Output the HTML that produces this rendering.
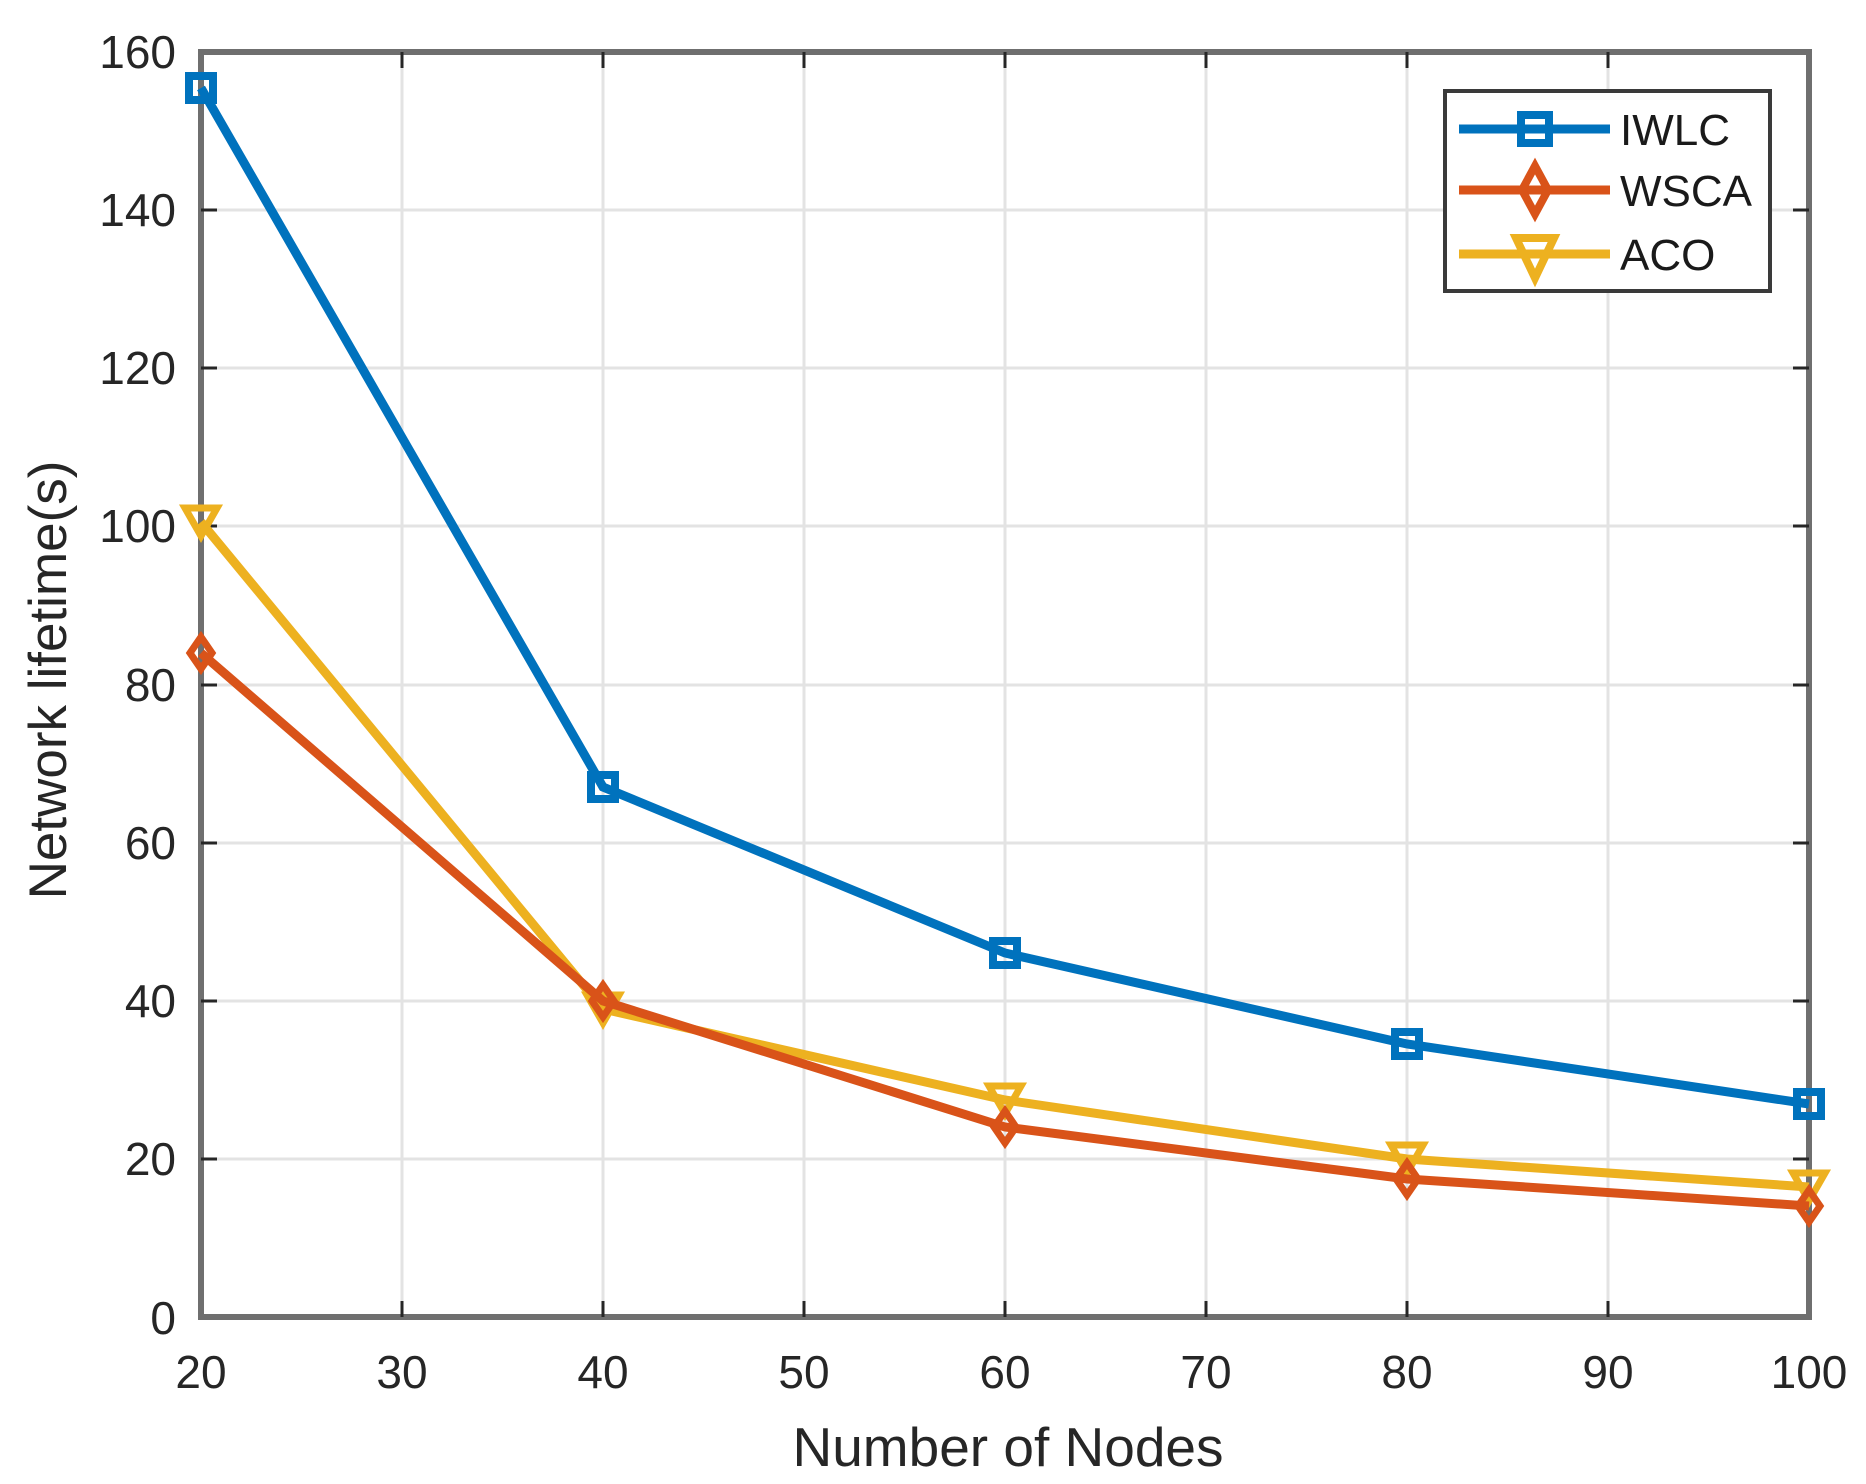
<!DOCTYPE html>
<html><head><style>body{margin:0;background:#fff}svg{display:block}</style></head>
<body>
<svg width="1866" height="1484" viewBox="0 0 1866 1484" xmlns="http://www.w3.org/2000/svg" font-family="Liberation Sans, sans-serif">
<rect width="1866" height="1484" fill="#fff"/>
<g stroke="#e3e3e3" stroke-width="3">
<line x1="402" y1="52" x2="402" y2="1317"/><line x1="603" y1="52" x2="603" y2="1317"/><line x1="804" y1="52" x2="804" y2="1317"/><line x1="1005" y1="52" x2="1005" y2="1317"/><line x1="1206" y1="52" x2="1206" y2="1317"/><line x1="1407" y1="52" x2="1407" y2="1317"/><line x1="1608" y1="52" x2="1608" y2="1317"/>
<line x1="201" y1="210" x2="1809" y2="210"/><line x1="201" y1="368" x2="1809" y2="368"/><line x1="201" y1="526" x2="1809" y2="526"/><line x1="201" y1="685" x2="1809" y2="685"/><line x1="201" y1="843" x2="1809" y2="843"/><line x1="201" y1="1001" x2="1809" y2="1001"/><line x1="201" y1="1159" x2="1809" y2="1159"/>
</g>
<rect x="201" y="52" width="1608" height="1265" fill="none" stroke="#6f6f6f" stroke-width="6"/>
<g stroke="#262626" stroke-width="3">
<line x1="402" y1="52" x2="402" y2="68"/><line x1="603" y1="52" x2="603" y2="68"/><line x1="804" y1="52" x2="804" y2="68"/><line x1="1005" y1="52" x2="1005" y2="68"/><line x1="1206" y1="52" x2="1206" y2="68"/><line x1="1407" y1="52" x2="1407" y2="68"/><line x1="1608" y1="52" x2="1608" y2="68"/>
<line x1="402" y1="1317" x2="402" y2="1301"/><line x1="603" y1="1317" x2="603" y2="1301"/><line x1="804" y1="1317" x2="804" y2="1301"/><line x1="1005" y1="1317" x2="1005" y2="1301"/><line x1="1206" y1="1317" x2="1206" y2="1301"/><line x1="1407" y1="1317" x2="1407" y2="1301"/><line x1="1608" y1="1317" x2="1608" y2="1301"/>
<line x1="201" y1="210" x2="217" y2="210"/><line x1="201" y1="368" x2="217" y2="368"/><line x1="201" y1="526" x2="217" y2="526"/><line x1="201" y1="685" x2="217" y2="685"/><line x1="201" y1="843" x2="217" y2="843"/><line x1="201" y1="1001" x2="217" y2="1001"/><line x1="201" y1="1159" x2="217" y2="1159"/>
<line x1="1809" y1="210" x2="1793" y2="210"/><line x1="1809" y1="368" x2="1793" y2="368"/><line x1="1809" y1="526" x2="1793" y2="526"/><line x1="1809" y1="685" x2="1793" y2="685"/><line x1="1809" y1="843" x2="1793" y2="843"/><line x1="1809" y1="1001" x2="1793" y2="1001"/><line x1="1809" y1="1159" x2="1793" y2="1159"/>
</g>
<g font-size="46" fill="#262626" text-anchor="end">
<text x="176" y="68">160</text><text x="176" y="226">140</text><text x="176" y="384">120</text><text x="176" y="542">100</text><text x="176" y="701">80</text><text x="176" y="859">60</text><text x="176" y="1017">40</text><text x="176" y="1175">20</text><text x="176" y="1334">0</text>
</g>
<g font-size="46" fill="#262626" text-anchor="middle">
<text x="201" y="1388">20</text><text x="402" y="1388">30</text><text x="603" y="1388">40</text><text x="804" y="1388">50</text><text x="1005" y="1388">60</text><text x="1206" y="1388">70</text><text x="1407" y="1388">80</text><text x="1608" y="1388">90</text><text x="1809" y="1388">100</text>
</g>
<text x="1008" y="1466" font-size="55" fill="#262626" text-anchor="middle">Number of Nodes</text>
<text transform="translate(66,680) rotate(-90)" font-size="53" fill="#262626" text-anchor="middle">Network lifetime(s)</text>
<!-- ACO -->
<polyline fill="none" stroke="#EDB120" stroke-width="9" points="201,522 603,1009 1005,1100 1407,1159 1809,1187"/>
<g fill="none" stroke="#EDB120" stroke-width="7">
<polygon points="185,508 217,508 201,536"/><polygon points="587,995 619,995 603,1023"/><polygon points="989,1086 1021,1086 1005,1114"/><polygon points="1391,1145 1423,1145 1407,1173"/><polygon points="1793,1173 1825,1173 1809,1201"/>
</g>
<!-- WSCA -->
<polyline fill="none" stroke="#D95319" stroke-width="9" points="201,653 603,1001 1005,1127 1407,1179 1809,1206"/>
<g fill="none" stroke="#D95319" stroke-width="7">
<polygon points="201,637 212,653 201,669 190,653"/><polygon points="603,985 614,1001 603,1017 592,1001"/><polygon points="1005,1111 1016,1127 1005,1143 994,1127"/><polygon points="1407,1163 1418,1179 1407,1195 1396,1179"/><polygon points="1809,1190 1820,1206 1809,1222 1798,1206"/>
</g>
<!-- IWLC -->
<polyline fill="none" stroke="#0072BD" stroke-width="9" points="201,88 603,787 1005,953 1407,1044 1809,1104"/>
<g fill="none" stroke="#0072BD" stroke-width="8">
<rect x="189" y="76" width="24" height="24"/><rect x="591" y="775" width="24" height="24"/><rect x="993" y="941" width="24" height="24"/><rect x="1395" y="1032" width="24" height="24"/><rect x="1797" y="1092" width="24" height="24"/>
</g>
<!-- legend -->
<rect x="1445" y="91" width="325" height="200" fill="#fff" stroke="#3a3a3a" stroke-width="4"/>
<line x1="1459" y1="129" x2="1610" y2="129" stroke="#0072BD" stroke-width="9"/>
<rect x="1521" y="115" width="28" height="28" fill="none" stroke="#0072BD" stroke-width="8"/>
<line x1="1459" y1="190" x2="1610" y2="190" stroke="#D95319" stroke-width="9"/>
<polygon points="1535,166 1548,190 1535,214 1522,190" fill="none" stroke="#D95319" stroke-width="8"/>
<line x1="1459" y1="254" x2="1610" y2="254" stroke="#EDB120" stroke-width="9"/>
<polygon points="1516,238 1554,238 1535,278" fill="none" stroke="#EDB120" stroke-width="8"/>
<g font-size="44" fill="#1a1a1a">
<text x="1620" y="145">IWLC</text><text x="1620" y="206">WSCA</text><text x="1620" y="270">ACO</text>
</g>
</svg>
</body></html>
